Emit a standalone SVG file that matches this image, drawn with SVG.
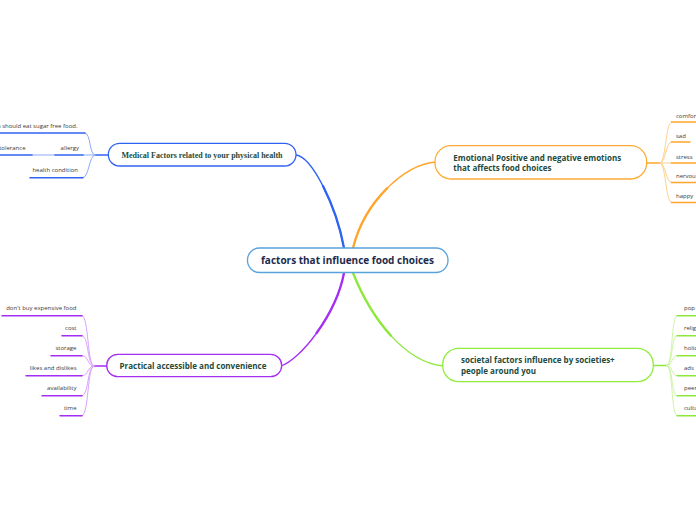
<svg xmlns="http://www.w3.org/2000/svg" width="696" height="520" viewBox="0 0 696 520">
<style>
.node{fill:#fff;stroke-width:1.3}
.t{font-family:"Open Sans","Noto Sans",sans-serif;font-weight:bold;font-size:8px;fill:#1d4b3c}
.ts{font-family:"Liberation Serif","Times New Roman",serif;font-weight:bold;font-size:8px;fill:#1d4b3c}
.st{font-family:"Open Sans","Noto Sans",sans-serif;font-size:6px;fill:#3a3a3a}
.e{text-anchor:end}
path{fill:none;stroke-linecap:round}
.blue{stroke:#2f63f4}
.lblue{stroke:#8eaaf7;stroke-width:1}
.org{stroke:#ffa52b}
.lorg{stroke:#ffd089;stroke-width:1}
.pur{stroke:#a52ef5}
.lpur{stroke:#d9a3fb;stroke-width:1}
.grn{stroke:#8ee83c}
.lgrn{stroke:#cdf5a5;stroke-width:1}
.ul{stroke-width:1.5}
.stub{stroke-width:1.3}
</style>
<rect width="696" height="520" fill="#fff"/>
<g id="connectors">
  <path class="blue" stroke-width="1.3" d="M296,155 C312,157 336,205 344,248"/>
  <path class="blue" stroke-width="2.3" d="M323,186.1 C332,203.75 340,226.5 344,248"/>
  <path class="org" stroke-width="1.3" d="M435,162 C405,165 365,200 353,248"/>
  <path class="org" stroke-width="2.3" d="M387.25,188.1 C372,203.25 359,224 353,248"/>
  <path class="pur" stroke-width="1.3" d="M344,273 C336,315 300,360 281,366"/>
  <path class="pur" stroke-width="2.3" d="M344,273 C340,294 329,315.75 316.6,333"/>
  <path class="grn" stroke-width="1.3" d="M353,273 C372,320 405,362 443,366"/>
  <path class="grn" stroke-width="2.3" d="M353,273 C362.5,296.5 375.5,318.75 390.9,335.6"/>

  <path class="blue stub" d="M108,155 H95"/>
  <path class="lblue" d="M95,155 C89,155 91,133 85,133"/>
  <path class="lblue" d="M95,155 H83"/>
  <path class="lblue" d="M95,155 C89,155 89,177.7 83,177.7"/>
  <path class="lblue" d="M55,155 H32"/>
  <path class="blue ul" d="M0,133 H85"/>
  <path class="blue ul" d="M55,155 H83"/>
  <path class="blue ul" d="M0,155 H32"/>
  <path class="blue ul" d="M30,177.7 H83"/>

  <path class="org stub" d="M647,163 H660"/>
  <path class="lorg" d="M660,163 C666,163 665.5,122 671.5,122"/>
  <path class="lorg" d="M660,163 C666,163 665.5,142 671.5,142"/>
  <path class="lorg" d="M660,163 H671.5"/>
  <path class="lorg" d="M660,163 C666,163 665.5,182.5 671.5,182.5"/>
  <path class="lorg" d="M660,163 C666,163 665.5,202.5 671.5,202.5"/>
  <path class="org ul" d="M671.5,122 H696"/>
  <path class="org ul" d="M671.5,142 H690"/>
  <path class="org ul" d="M671.5,163 H696"/>
  <path class="org ul" d="M671.5,182.5 H696"/>
  <path class="org ul" d="M671.5,202.5 H696"/>

  <path class="pur stub" d="M107,366 H94"/>
  <path class="lpur" d="M94,366 C87,366 89,315.7 82,315.7"/>
  <path class="lpur" d="M94,366 C87,366 89,335.7 82,335.7"/>
  <path class="lpur" d="M94,366 C87,366 89,355.7 82,355.7"/>
  <path class="lpur" d="M94,366 C87,366 89,375.7 82,375.7"/>
  <path class="lpur" d="M94,366 C87,366 89,395.7 82,395.7"/>
  <path class="lpur" d="M94,366 C87,366 89,415.7 82,415.7"/>
  <path class="pur ul" d="M2,315.7 H82"/>
  <path class="pur ul" d="M62,335.7 H82"/>
  <path class="pur ul" d="M51,355.7 H82"/>
  <path class="pur ul" d="M26,375.7 H82"/>
  <path class="pur ul" d="M42,395.7 H82"/>
  <path class="pur ul" d="M60,415.7 H82"/>

  <path class="grn stub" d="M654,365.5 H667"/>
  <path class="lgrn" d="M667,365.5 C673,365.5 671,315.7 677,315.7"/>
  <path class="lgrn" d="M667,365.5 C673,365.5 671,335.7 677,335.7"/>
  <path class="lgrn" d="M667,365.5 C673,365.5 671,355.7 677,355.7"/>
  <path class="lgrn" d="M667,365.5 C673,365.5 671,375.7 677,375.7"/>
  <path class="lgrn" d="M667,365.5 C673,365.5 671,395.7 677,395.7"/>
  <path class="lgrn" d="M667,365.5 C673,365.5 671,415.7 677,415.7"/>
  <path class="grn ul" d="M677,315.7 H696"/>
  <path class="grn ul" d="M677,335.7 H696"/>
  <path class="grn ul" d="M677,355.7 H696"/>
  <path class="grn ul" d="M677,375.7 H696"/>
  <path class="grn ul" d="M677,395.7 H696"/>
  <path class="grn ul" d="M677,415.7 H696"/>
</g>

<g id="central">
  <rect class="node" x="247.5" y="248" width="200.5" height="24.5" rx="12" stroke="#5aa2dc"/>
  <text x="347.5" y="264" text-anchor="middle" font-family="'Open Sans','Noto Sans',sans-serif" font-weight="bold" font-size="10" fill="#1c2b4b">factors that influence food choices</text>
</g>

<g id="medical">
  <rect class="node" x="108.3" y="143.3" width="187.7" height="22.7" rx="11.3" stroke="#2f63f4"/>
  <text class="ts" x="202" y="158" text-anchor="middle">Medical Factors related to your physical health</text>
</g>
<g id="medical-sugar"><text class="st e" x="77.5" y="127.5">n should eat sugar free food.</text></g>
<g id="medical-allergy"><text class="st e" x="79" y="149.5">allergy</text></g>
<g id="medical-tolerance"><text class="st e" x="25.5" y="149.5">tolerance</text></g>
<g id="medical-health"><text class="st e" x="78" y="172">health condition</text></g>

<g id="emotional">
  <rect class="node" x="435" y="145.7" width="211.7" height="33.3" rx="16" stroke="#ffaa36"/>
  <text class="t" x="453.3" y="160.5">Emotional Positive and negative emotions</text>
  <text class="t" x="453.3" y="171">that affects food choices</text>
</g>
<g id="emo-comfort"><text class="st" x="676" y="117.5">comfor</text></g>
<g id="emo-sad"><text class="st" x="676" y="137.5">sad</text></g>
<g id="emo-stress"><text class="st" x="676" y="158.5">stress</text></g>
<g id="emo-nervous"><text class="st" x="676" y="178">nervou</text></g>
<g id="emo-happy"><text class="st" x="676" y="198">happy</text></g>

<g id="practical">
  <rect class="node" x="106.7" y="354.3" width="175" height="22.4" rx="11.2" stroke="#a52ef5"/>
  <text class="t" x="193" y="369" text-anchor="middle">Practical accessible and convenience</text>
</g>
<g id="prac-expensive"><text class="st e" x="76.5" y="310.2">don't buy expensive food</text></g>
<g id="prac-cost"><text class="st e" x="76.5" y="330.2">cost</text></g>
<g id="prac-storage"><text class="st e" x="76.5" y="350.2">storage</text></g>
<g id="prac-likes"><text class="st e" x="76.5" y="370.2">likes and dislikes</text></g>
<g id="prac-availability"><text class="st e" x="76.5" y="390.2">availability</text></g>
<g id="prac-time"><text class="st e" x="76.5" y="410.2">time</text></g>

<g id="societal">
  <rect class="node" x="442.7" y="348.3" width="210.6" height="33.4" rx="16" stroke="#90ec3c"/>
  <text class="t" x="461" y="363">societal factors influence by societies+</text>
  <text class="t" x="461" y="374">people around you</text>
</g>
<g id="soc-pop"><text class="st" x="684" y="310.2">pop</text></g>
<g id="soc-relig"><text class="st" x="684" y="330.2">relig</text></g>
<g id="soc-holid"><text class="st" x="684" y="350.2">holid</text></g>
<g id="soc-ads"><text class="st" x="684" y="370.2">ads</text></g>
<g id="soc-peer"><text class="st" x="684" y="390.2">peer</text></g>
<g id="soc-cultu"><text class="st" x="684" y="410.2">cultu</text></g>
</svg>
